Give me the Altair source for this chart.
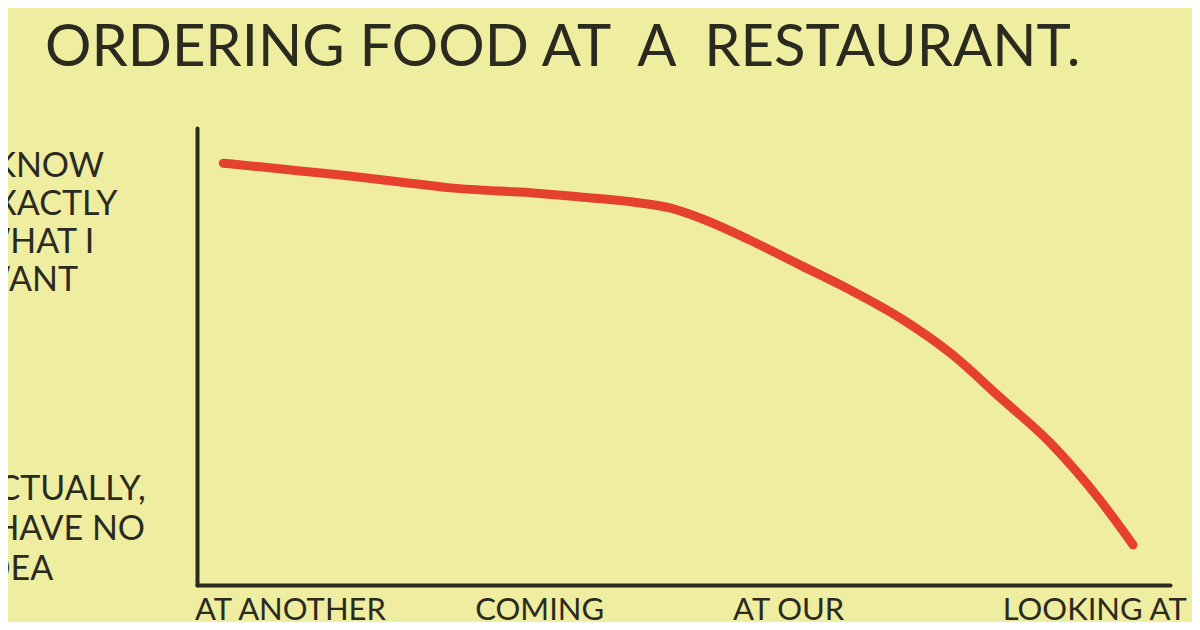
import altair as alt
import pandas as pd

# Red curve (x: progress of the evening 0-100, y: certainty 0-100)
curve_x = [2.7, 6.5, 10.6, 15.7, 20.9, 26.0, 31.1, 34.5, 39.4, 44.8, 48.6, 51.7,
           56.8, 62.0, 67.1, 72.3, 77.4, 82.5, 87.7, 92.8, 96.2]
curve_y = [92.3, 91.5, 90.6, 89.5, 88.2, 86.9, 86.2, 85.8, 84.9, 83.8, 82.5, 80.3,
           75.5, 70.0, 64.6, 58.4, 50.8, 41.1, 31.1, 18.6, 8.8]

# Hand-lettered x-axis categories (stage of ordering)
x_labels = ["AT ANOTHER|RESTAURANT", "COMING|IN", "AT OUR|TABLE", "LOOKING AT|REVIEWS"]
x_label_pos = [-0.2, 28.6, 55.1, 82.8]

# Hand-lettered y-axis levels
y_labels_top = ["I KNOW|EXACTLY|WHAT I|WANT"]
y_labels_bottom = ["ACTUALLY,|I HAVE NO|IDEA"]
y_label_pos_top = [95.2]
y_label_pos_bottom = [24.5]

TITLE = "ORDERING FOOD AT\u00a0\u00a0A\u00a0\u00a0RESTAURANT."

INK = "#2b2a1e"
RED = "#e6402e"
PAPER = "#eeeda0"
FONT = "Lato"

xs = alt.Scale(domain=[0, 100], nice=False, zero=False)
ys = alt.Scale(domain=[0, 100], nice=False, zero=False)

curve_df = pd.DataFrame({"x": curve_x, "y": curve_y})
xl_df = pd.DataFrame({"x": x_label_pos, "y": [-2.4] * len(x_labels), "t": x_labels})
ylt_df = pd.DataFrame({"x": [-22.8], "y": y_label_pos_top, "t": y_labels_top})
ylb_df = pd.DataFrame({"x": [-22.8], "y": y_label_pos_bottom, "t": y_labels_bottom})

line = alt.Chart(curve_df).mark_line(
    color=RED, strokeWidth=9, strokeCap="round", strokeJoin="round", interpolate="monotone"
).encode(
    x=alt.X("x:Q", scale=xs, axis=alt.Axis(title=None, labels=False, ticks=False, grid=False,
                                           domain=True, domainColor=INK, domainWidth=4, domainCap="round")),
    y=alt.Y("y:Q", scale=ys, axis=alt.Axis(title=None, labels=False, ticks=False, grid=False,
                                           domain=True, domainColor=INK, domainWidth=4, domainCap="round")),
)

xtext = alt.Chart(xl_df).mark_text(
    align="left", baseline="top", lineBreak="|", fontSize=31, font=FONT,
    color=INK, lineHeight=38
).encode(x=alt.X("x:Q", scale=xs), y=alt.Y("y:Q", scale=ys), text="t:N")

ytop = alt.Chart(ylt_df).mark_text(
    align="left", baseline="top", lineBreak="|", fontSize=34, font=FONT,
    color=INK, lineHeight=38
).encode(x=alt.X("x:Q", scale=xs), y=alt.Y("y:Q", scale=ys), text="t:N")

ybot = alt.Chart(ylb_df).mark_text(
    align="left", baseline="top", lineBreak="|", fontSize=34, font=FONT,
    color=INK, lineHeight=40
).encode(x=alt.X("x:Q", scale=xs), y=alt.Y("y:Q", scale=ys), text="t:N")

chart = alt.layer(line, xtext, ytop, ybot).properties(
    width=973,
    height=457,
    padding={"left": 189, "top": 120, "right": 22, "bottom": 37},
    autosize=alt.AutoSizeParams(type="none"),
    background=PAPER,
    title=alt.TitleParams(
        text=TITLE, anchor="start", frame="group", dx=-152, offset=4,
        baseline="alphabetic", fontSize=58, font=FONT, fontWeight="normal", color=INK
    ),
).configure_view(stroke=None)

chart.save("out.html", embed_options={"renderer": "svg", "actions": False})
